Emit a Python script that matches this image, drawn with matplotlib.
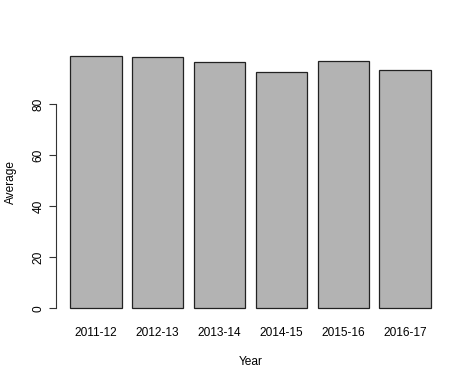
import matplotlib
matplotlib.use('Agg')
import matplotlib.pyplot as plt
import numpy as np

plt.rcParams.update({
    'font.family': ['Liberation Sans', 'DejaVu Sans'],
    'font.size': 8.6,
})

years = ['2011-12', '2012-13', '2013-14', '2014-15', '2015-16', '2016-17']
average = [99.1, 98.7, 96.5, 92.7, 97.0, 93.6]

fig = plt.figure(figsize=(4.74, 3.81), dpi=100)
ax = fig.add_axes([0.1173, 0.1643, 0.8224, 0.7165])

# R barplot layout: width 1, space 0.2
x = 0.7 + 1.2 * np.arange(len(years))
ax.bar(x, average, width=1.0, color='#b3b3b3', edgecolor='#222222', linewidth=0.9)

span = x[-1] + 0.5 - 0.2
ax.set_xlim(0.2 - 0.04 * span, x[-1] + 0.5 + 0.04 * span)
ymax = max(average)
ax.set_ylim(-0.04 * ymax, ymax * 1.04)

for s in ['top', 'right', 'bottom']:
    ax.spines[s].set_visible(False)
ax.spines['left'].set_bounds(0, 80)
ax.spines['left'].set_color('#333333')

ax.set_yticks([0, 20, 40, 60, 80])
ax.tick_params(axis='y', length=5, width=0.8, pad=3, color='#333333')
for lab in ax.get_yticklabels():
    lab.set_rotation(90)
    lab.set_va('center')

ax.set_xticks(x)
ax.set_xticklabels(years)
ax.tick_params(axis='x', length=0, pad=6.5)

ax.set_xlabel('Year', labelpad=12)
ax.set_ylabel('Average', labelpad=11)

fig.savefig('out.png', dpi=100)
